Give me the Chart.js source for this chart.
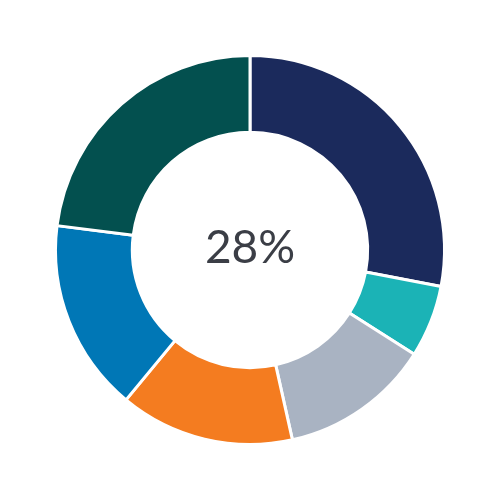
<!DOCTYPE html>
<html>
<head>
<meta charset="utf-8">
<script src="https://cdn.jsdelivr.net/npm/chart.js@4/dist/chart.umd.min.js"></script>
<style>
	html, body { margin: 0; padding: 0; background: #fff; }
	#wrap { width: 500px; height: 500px; }
</style>
</head>
<body>
<div id="wrap"><canvas id="donut-chart"></canvas></div>
<script>
// valores (sentido horário a partir do topo)
const labels = ["Navy", "Teal", "Gray", "Orange", "Blue", "Dark green"];
const values = [28, 6, 12.5, 14.5, 16, 23];
const colors = ["#1b2a5c", "#1bb3b6", "#a9b3c2", "#f47c20", "#0077b6", "#03504f"];
const centerLabel = "28%";

const centerText = {
	id: "centerText",
	afterDraw(chart) {
		const meta = chart.getDatasetMeta(0).data[0];
		const c = chart.ctx;
		c.save();
		c.font = "400 46px Lato, 'Open Sans', sans-serif";
		c.fillStyle = "#3b3e46";
		c.textAlign = "center";
		c.textBaseline = "middle";
		c.fillText(centerLabel, meta.x, meta.y - 2);
		c.restore();
	}
};

new Chart(document.getElementById("donut-chart"), {
	type: "doughnut",
	data: {
		labels: labels,
		datasets: [{
			data: values,
			backgroundColor: colors,
			borderColor: "#ffffff",
			borderWidth: 3
		}]
	},
	options: {
		responsive: true,
		maintainAspectRatio: false,
		animation: false,
		cutout: "60.5%",
		layout: { padding: 54 },
		plugins: {
			legend: { display: false },
			tooltip: { enabled: false }
		}
	},
	plugins: [centerText]
});
</script>
</body>
</html>
